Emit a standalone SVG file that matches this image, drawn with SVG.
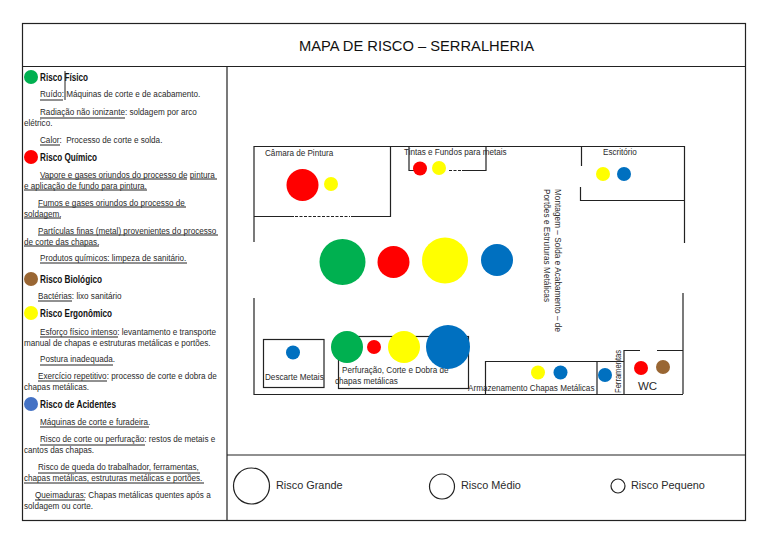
<svg xmlns="http://www.w3.org/2000/svg" width="768" height="543" viewBox="0 0 768 543">
<style>
text{font-family:"Liberation Sans",Arial,sans-serif;fill:#2a2a2a}
.t{font-size:8.150px}
.h{font-size:10px;font-weight:bold;fill:#111}
.p{font-size:8.150px}
.u{stroke:#222;stroke-width:1;fill:none}
.w{stroke:#222;stroke-width:1.200;fill:none}
.d{stroke:#222;stroke-width:1.200;fill:none;stroke-dasharray:3 1.500}
.l{font-size:10.900px}
.g{fill:#00b050}.r{fill:#ff0000}.y{fill:#ffff00}.b{fill:#0070c0}.m{fill:#996633}
</style>
<rect width="768" height="543" fill="#fff"/>
<g id="frame" class="w">
<rect x="22.500" y="23.500" width="723" height="497"/>
<path d="M23 66.500H746M227 67V520M227 455H746"/>
</g>
<text id="title" x="299" y="50.500" font-size="15.500" textLength="235" lengthAdjust="spacingAndGlyphs" style="fill:#111">MAPA DE RISCO – SERRALHERIA</text>

<g id="legend-fisico">
<circle cx="31" cy="77" r="7" class="g"/>
<text class="h" x="40" y="80.500" textLength="48" lengthAdjust="spacingAndGlyphs">Risco Físico</text>
<path class="u" d="M65 71V100M40 100H63M40 118H125M40 145H60"/>
<text class="p" x="40" y="97">Ruído: Máquinas de corte e de acabamento.</text>
<text class="p" x="40" y="115">Radiação não ionizante: soldagem por arco</text>
<text class="p" x="24" y="126">elétrico.</text>
<text class="p" x="40" y="143" xml:space="preserve">Calor:  Processo de corte e solda.</text>
</g>
<g id="legend-quimico">
<circle cx="31" cy="157" r="7" class="r"/>
<text class="h" x="40" y="160.500" textLength="57" lengthAdjust="spacingAndGlyphs">Risco Químico</text>
<path class="u" d="M40 179H187M191 179H217M24 190H147M38 207H186M24 218H61M38 235H218M24 246H99M40 263H187"/>
<text class="p" x="40" y="178">Vapore e gases oriundos do processo de pintura</text>
<text class="p" x="24" y="189">e aplicação de fundo para pintura.</text>
<text class="p" x="38" y="206">Fumos e gases oriundos do processo de</text>
<text class="p" x="24" y="217">soldagem.</text>
<text class="p" x="38" y="234">Partículas finas (metal) provenientes do processo</text>
<text class="p" x="24" y="245">de corte das chapas.</text>
<text class="p" x="40" y="261">Produtos químicos: limpeza de sanitário.</text>
</g>
<g id="legend-biologico">
<circle cx="31" cy="279" r="7" class="m"/>
<text class="h" x="40" y="282.500" textLength="62" lengthAdjust="spacingAndGlyphs">Risco Biológico</text>
<path class="u" d="M38 301H72"/>
<text class="p" x="38" y="299">Bactérias: lixo sanitário</text>
</g>
<g id="legend-ergonomico">
<circle cx="31" cy="313" r="7" class="y"/>
<text class="h" x="40" y="316.500" textLength="72" lengthAdjust="spacingAndGlyphs">Risco Ergonômico</text>
<path class="u" d="M40 337H118M40 365H113M38 381H107"/>
<text class="p" x="40" y="335">Esforço físico intenso: levantamento e transporte</text>
<text class="p" x="24" y="346">manual de chapas e estruturas metálicas e portões.</text>
<text class="p" x="40" y="362">Postura inadequada.</text>
<text class="p" x="38" y="379">Exercício repetitivo: processo de corte e dobra de</text>
<text class="p" x="24" y="390">chapas metálicas.</text>
</g>
<g id="legend-acidentes">
<circle cx="31" cy="404" r="7" fill="#4472c4"/>
<text class="h" x="40" y="407.500" textLength="76" lengthAdjust="spacingAndGlyphs">Risco de Acidentes</text>
<path class="u" d="M40 427H149M40 445H145M38 473H200M24 483H204M35 500H85"/>
<text class="p" x="40" y="425">Máquinas de corte e furadeira.</text>
<text class="p" x="40" y="442">Risco de corte ou perfuração: restos de metais e</text>
<text class="p" x="24" y="453">cantos das chapas.</text>
<text class="p" x="38" y="470">Risco de queda do trabalhador, ferramentas,</text>
<text class="p" x="24" y="481">chapas metálicas, estruturas metálicas e portões.</text>
<text class="p" x="35" y="498">Queimaduras: Chapas metálicas quentes após a</text>
<text class="p" x="24" y="509">soldagem ou corte.</text>
</g>

<g id="connectors">
<path class="w" d="M254 242V146.500H685M390.500 146V216.500H351M294 216.500H254M254 298V394.500H683M684.500 146V243M683 293V394"/>
<path class="d" d="M295 216.500H350"/>
<path class="w" d="M409 146V170.500H420M486 146V170.500H462"/>
<path class="d" d="M449 170.500H461"/>
<path class="w" d="M581.500 146V166M580.500 187V200.500H684"/>
<path class="w" d="M485.500 394V361.500H624M597 361V394M624 394V350.500H640M657 350.500H683"/>
</g>

<g id="camara-pintura">
<text class="t" x="265" y="156">Câmara de Pintura</text>
<circle cx="302.500" cy="185" r="16" class="r"/><circle cx="331" cy="184" r="7" class="y"/>
</g>
<g id="tintas">
<text class="t" x="404" y="155">Tintas e Fundos para metais</text>
<circle cx="420" cy="168.500" r="7" class="r"/><circle cx="439" cy="168" r="7" class="y"/>
</g>
<g id="escritorio">
<text class="t" x="603" y="155">Escritório</text>
<circle cx="603" cy="174" r="7" class="y"/><circle cx="624" cy="174" r="7" class="b"/>
</g>
<g id="montagem">
<text class="t" transform="translate(555,189) rotate(90)" textLength="143">Montagem – Solda e Acabamento – de</text>
<text class="t" transform="translate(544,189) rotate(90)" textLength="113">Portões e Estruturas Metálicas</text>
<circle cx="342.500" cy="262" r="23" class="g"/><circle cx="393.500" cy="262" r="16" class="r"/>
<circle cx="445" cy="260.500" r="23" class="y"/><circle cx="497" cy="260" r="16" class="b"/>
</g>
<g id="descarte">
<rect class="w" x="263.500" y="339.500" width="60.500" height="48"/>
<text class="t" x="265" y="380">Descarte Metais</text>
<circle cx="293" cy="352.500" r="7" class="b"/>
</g>
<g id="perfuracao">
<rect class="w" x="338.500" y="336.500" width="130" height="52"/>
<text class="t" x="342" y="373">Perfuração, Corte e Dobra de</text>
<text class="t" x="335" y="384">chapas metálicas</text>
<circle cx="347" cy="347" r="16" class="g"/><circle cx="374" cy="347" r="7" class="r"/>
<circle cx="404" cy="347" r="16" class="y"/><circle cx="448" cy="347" r="22" class="b"/>
</g>
<g id="armazenamento">
<text class="t" x="468" y="391">Armazenamento Chapas Metálicas</text>
<circle cx="538" cy="372.500" r="7" class="y"/><circle cx="560.500" cy="372.500" r="7" class="b"/>
</g>
<g id="ferramentas">
<text class="t" transform="translate(621,393) rotate(-90)" textLength="43" lengthAdjust="spacingAndGlyphs">Ferramentas</text>
<circle cx="605" cy="375" r="7" class="b"/>
</g>
<g id="wc">
<text x="638" y="390" font-size="11.500">WC</text>
<circle cx="641" cy="368" r="7" class="r"/><circle cx="663" cy="367" r="7" class="m"/>
</g>

<g id="risco-grande"><circle cx="251.500" cy="486" r="18" fill="#fff" stroke="#222" stroke-width="1.200"/><text class="l" x="276" y="489">Risco Grande</text></g>
<g id="risco-medio"><circle cx="442" cy="486.500" r="12.500" fill="#fff" stroke="#222" stroke-width="1.200"/><text class="l" x="461" y="489">Risco Médio</text></g>
<g id="risco-pequeno"><circle cx="618" cy="486" r="7" fill="#fff" stroke="#222" stroke-width="1.200"/><text class="l" x="631" y="489">Risco Pequeno</text></g>
</svg>
